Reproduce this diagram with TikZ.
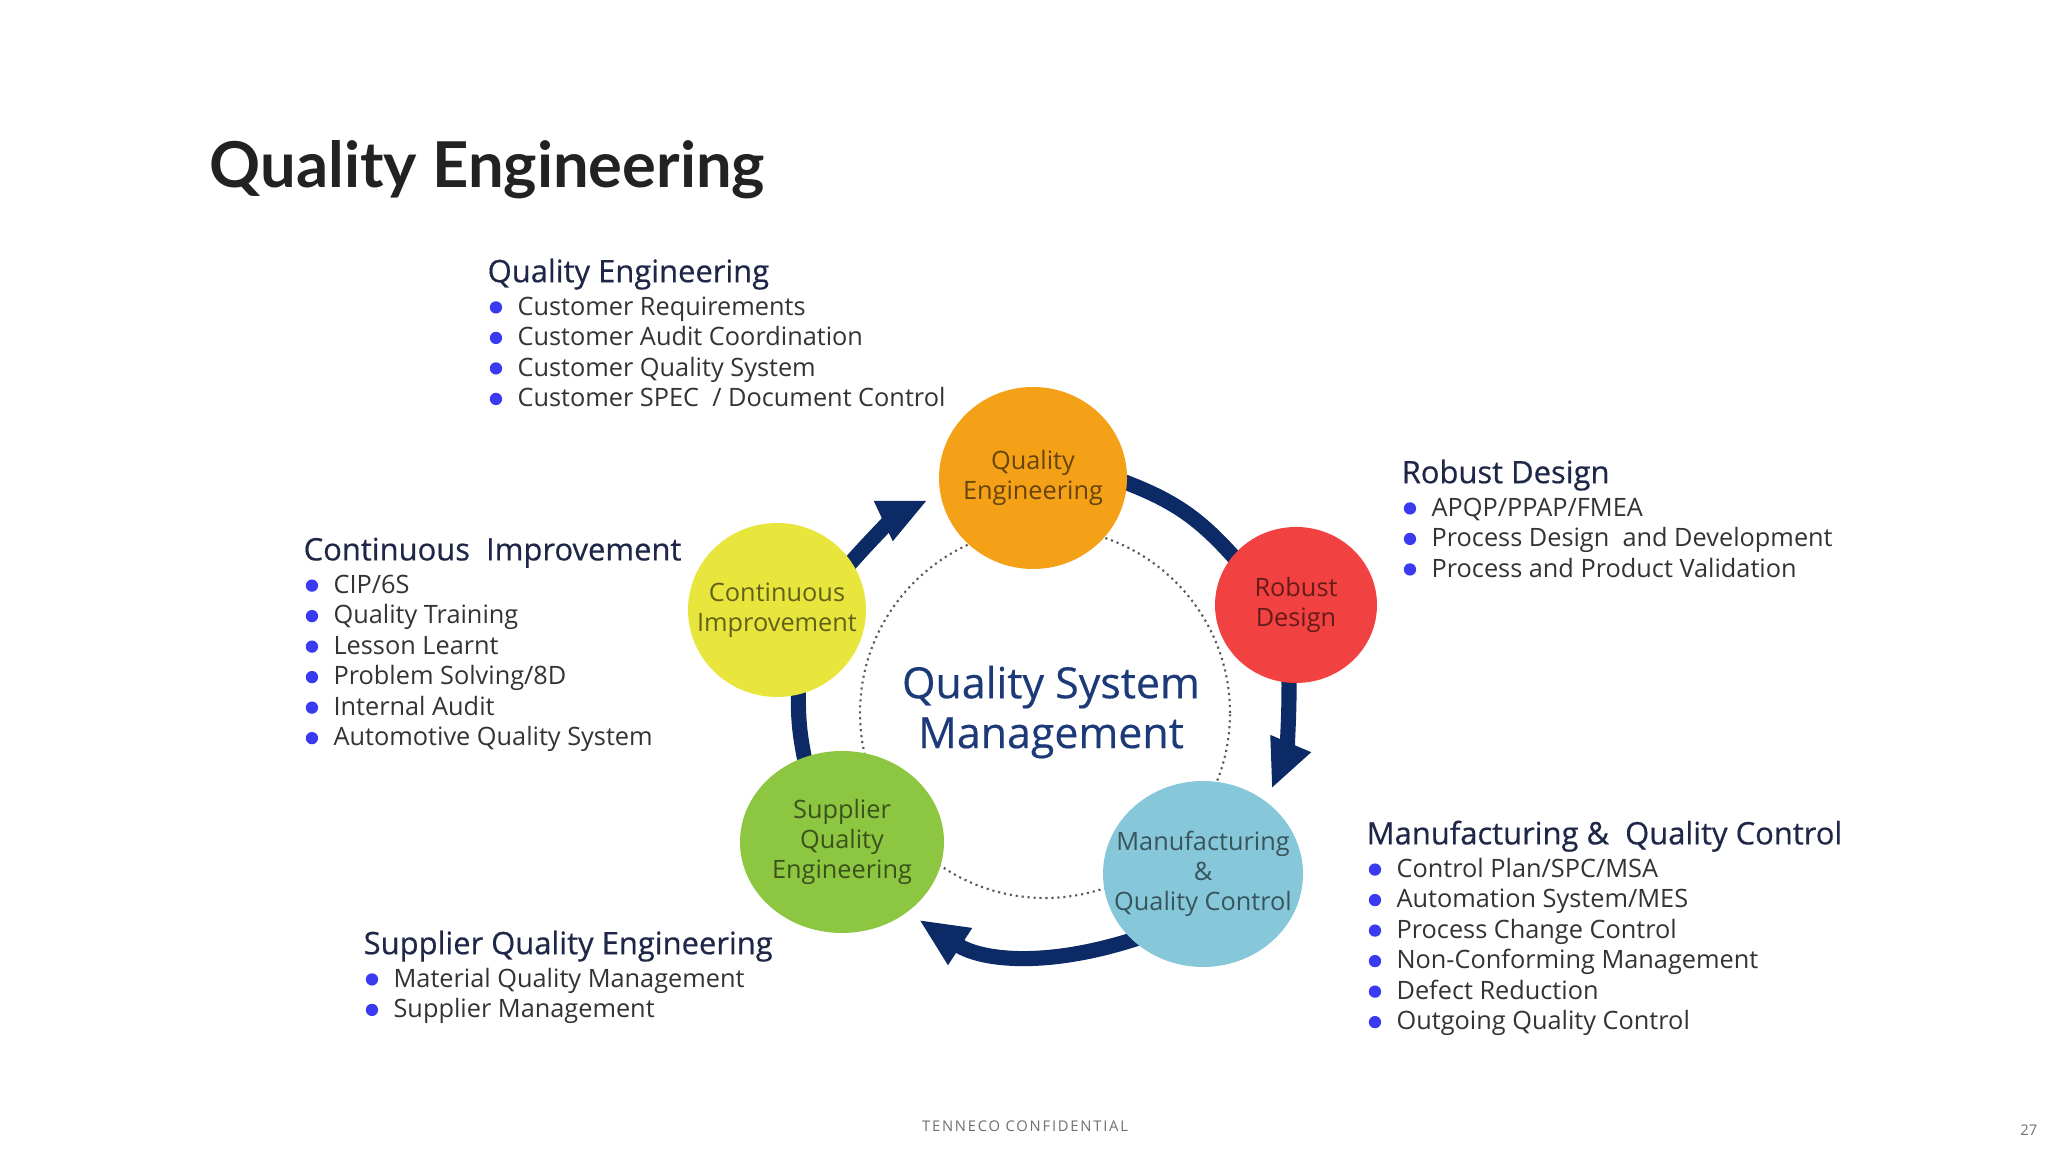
\documentclass[tikz,border=0pt]{standalone}
\usepackage{fontspec}
\setmainfont{Open Sans}
\newfontfamily\titlefont{Lato}
\usetikzlibrary{arrows.meta,shapes.geometric,backgrounds}
\definecolor{navy}{HTML}{0B2A66}
\definecolor{qsmblue}{HTML}{1C3A78}
\definecolor{headnavy}{HTML}{1E2747}
\definecolor{itemgray}{HTML}{333333}
\definecolor{titlegray}{HTML}{222222}
\definecolor{footgray}{HTML}{707070}
\definecolor{dotblue}{HTML}{3A3AF0}
\definecolor{qeorange}{HTML}{F4A118}
\definecolor{rdred}{HTML}{F24141}
\definecolor{mqcblue}{HTML}{86C8DA}
\definecolor{sqegreen}{HTML}{8DC641}
\definecolor{ciyellow}{HTML}{E8E63C}
\newcommand{\hd}{\fontsize{8.8}{9.4}\selectfont\addfontfeatures{FakeBold=0.5}\color{headnavy}}
\newcommand{\bul}{\makebox[8.5pt][l]{\hspace{0.6pt}\tikz[baseline=-2.2pt]\fill[dotblue] (0,0) circle[radius=1.75pt];}}

\begin{document}
\begin{tikzpicture}[
  x=0.1mm, y=0.1mm,
  >={Triangle[length=14pt, width=11.5pt]},
  stage/.style={ellipse, inner sep=0pt},
  stagetxt/.style={align=center, inner sep=0pt, font=\fontsize{7.2}{8.5}\selectfont},
  blk/.style={anchor=north west, align=left, inner sep=0pt, text=itemgray, font=\fontsize{7.2}{8.68}\selectfont},
  ring/.style={draw=navy, line width=4.3pt},
  ringdot/.style={draw=gray!70!black, line width=0.6pt, dash pattern=on 0.6pt off 1.1pt},
]
  \begin{scope}[on background layer]
    \fill[white] (0,0) rectangle (2048,1152);
  \end{scope}
  \useasboundingbox (0,0) rectangle (2048,1152);

  % ---------------- title
  \node[anchor=base west, inner sep=0pt, text=titlegray, font=\titlefont\bfseries\fontsize{18}{20}\selectfont] (title) at (209,964) {Quality Engineering};

  % ---------------- centre
  \coordinate (ctr) at (1045,439);
  \draw[ringdot] (ctr) circle[radius=18.5mm];
  \node[align=center, inner sep=0pt, text=qsmblue, font=\fontsize{12.2}{14.2}\selectfont\addfontfeatures{FakeBold=0.4}] (qsm) at (1051,440) {Quality System\\Management};

  % ---------------- stages
  \node[stage, fill=qeorange, minimum width=18.8mm, minimum height=18.2mm] (qe) at (1033,674) {};
  \node[stage, fill=rdred, minimum width=16.2mm, minimum height=15.6mm] (rd) at (1296,547) {};
  \node[stage, fill=mqcblue, minimum width=20mm, minimum height=18.6mm] (mqc) at (1203,278) {};
  \node[stage, fill=sqegreen, minimum width=20.4mm, minimum height=18.2mm] (sqe) at (842,310) {};
  \node[stage, fill=ciyellow, minimum width=17.8mm, minimum height=17.4mm] (ci) at (777,542) {};
  \node[stagetxt, text=qeorange!42!black] (qe-t) at (qe) {Quality\\Engineering};
  \node[stagetxt, text=rdred!42!black] (rd-t) at (rd) {Robust\\Design};
  \node[stagetxt, text=mqcblue!42!black] (mqc-t) at (mqc) {Manufacturing\\\&\\Quality Control};
  \node[stagetxt, text=sqegreen!42!black] (sqe-t) at (sqe) {Supplier\\Quality\\Engineering};
  \node[stagetxt, text=ciyellow!42!black] (ci-t) at (ci) {Continuous\\Improvement};

  % ---------------- cycle
  \begin{scope}[on background layer]
    \foreach \a/\b/\bend in {qe.-3/rd.142/14.5, sqe.114/ci.-76/6.5}
      \draw[ring, shorten <=-4pt, shorten >=-4pt] (\a) to[bend left=\bend] (\b);
    \foreach \a/\b/\bend in {rd.-95/mqc.49/12, mqc.223/sqe.-47/26, ci.33/qe.190/12}
      \draw[ring, ->, shorten <=-4pt, shorten >=3.8pt] (\a) to[bend left=\bend] (\b);
  \end{scope}

  % ---------------- lists
  \node[blk] (qe-l) at (487,894) {{\hd Quality Engineering}\\[0.7pt]
    \bul Customer Requirements\\
    \bul Customer Audit Coordination\\
    \bul Customer Quality System\\
    \bul Customer SPEC~ / Document Control};
  \node[blk] (rd-l) at (1401,693) {{\hd Robust Design}\\[0.7pt]
    \bul APQP/PPAP/FMEA\\
    \bul Process Design~ and Development\\
    \bul Process and Product Validation};
  \node[blk] (ci-l) at (303,615) {{\hd Continuous~ Improvement}\\[0.7pt]
    \bul CIP/6S\\
    \bul Quality Training\\
    \bul Lesson Learnt\\
    \bul Problem Solving/8D\\
    \bul Internal Audit\\
    \bul Automotive Quality System};
  \node[blk] (sqe-l) at (363,222) {{\hd Supplier Quality Engineering}\\[0.7pt]
    \bul Material Quality Management\\
    \bul Supplier Management};
  \node[blk] (mqc-l) at (1366,332) {{\hd Manufacturing \&~ Quality Control}\\[0.7pt]
    \bul Control Plan/SPC/MSA\\
    \bul Automation System/MES\\
    \bul Process Change Control\\
    \bul Non-Conforming Management\\
    \bul Defect Reduction\\
    \bul Outgoing Quality Control};

  % ---------------- footer
  \node[inner sep=0pt, text=footgray, font=\fontsize{4.2}{5}\selectfont\addfontfeatures{LetterSpace=12}] (conf) at (1025,26) {TENNECO CONFIDENTIAL};
  \node[anchor=east, inner sep=0pt, text=footgray, font=\fontsize{4.2}{5}\selectfont] (pgno) at (2038,22) {27};
\end{tikzpicture}
\end{document}
